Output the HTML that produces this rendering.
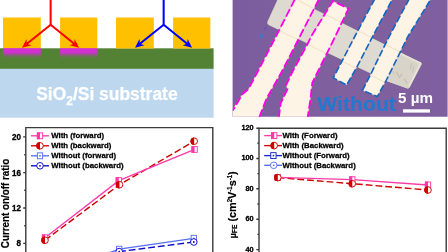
<!DOCTYPE html>
<html>
<head>
<meta charset="utf-8">
<title>Figure</title>
<style>
html,body{margin:0;padding:0;background:#fff;overflow:hidden;}
body{width:448px;height:252px;position:relative;font-family:"Liberation Sans",sans-serif;}
svg{position:absolute;left:0;top:0;display:block;}
text{font-family:"Liberation Sans",sans-serif;font-weight:bold;}
</style>
</head>
<body>
<svg width="448" height="252" viewBox="0 0 448 252">
<defs>
  <linearGradient id="mg" x1="0" y1="0" x2="0" y2="1">
    <stop offset="0" stop-color="#d42fd4"/>
    <stop offset="0.42" stop-color="#cc33cc"/>
    <stop offset="1" stop-color="#548235" stop-opacity="0"/>
  </linearGradient>
  <clipPath id="micro"><rect x="232.6" y="0" width="215" height="116.7"/></clipPath>
  <linearGradient id="pg" x1="0" y1="0" x2="1" y2="0"><stop offset="0" stop-color="#7b5d9f"/><stop offset="0.5" stop-color="#80609d"/><stop offset="1" stop-color="#7f5f9f"/></linearGradient>
  <clipPath id="c1"><rect x="25.8" y="127.6" width="187" height="125"/></clipPath>
  <clipPath id="c2"><rect x="259" y="128.2" width="187.2" height="125"/></clipPath>
  <clipPath id="eclip"><path d="M295 -1L319 -1L308.5 19.6L295.5 45L281.6 72L266.4 98.8L259 118L232 118L232 110.6L242.3 94.3L248.5 89L257.5 72L276.2 36Z"/><path d="M332.8 1L348.5 8.6L335.5 36L317.6 72L312.3 82.7L310.5 98.8L307.6 118L278.8 118L280.7 103.2L287.5 89L286 85.4L292.3 72L307 45L311.4 36Z"/><path d="M374.8 -1L392.5 -1L371 39.6L356.9 67.1L346.6 85L333.3 77.9L341.1 62.9L355 36L368 11.6Z"/><path d="M409.2 -1L431 -1L408.2 36L385.9 81L377.3 96.6L362.5 90.4L372 71.7L378 59.2L389.4 36Z"/></clipPath>
  <filter id="soft2" x="-30%" y="-30%" width="160%" height="160%"><feGaussianBlur stdDeviation="0.7"/></filter>
  <filter id="soft" x="-5%" y="-5%" width="110%" height="110%"><feGaussianBlur stdDeviation="0.45"/></filter>
</defs>

<!-- ================= Panel A : schematic ================= -->
<g id="schematic">
  <rect x="0" y="68.3" width="213.6" height="49.4" fill="#bdd7ee"/>
  <rect x="0" y="48.3" width="213.6" height="20.5" fill="#548235"/>
  <rect x="3" y="17.5" width="37.8" height="31" fill="#ffc000"/>
  <rect x="60.1" y="17.5" width="37.2" height="31" fill="#ffc000"/>
  <rect x="116" y="17.5" width="37.8" height="31" fill="#ffc000"/>
  <rect x="173.1" y="17.5" width="37.2" height="31" fill="#ffc000"/>
  <rect x="3" y="48.2" width="37.8" height="11.2" fill="url(#mg)"/>
  <rect x="60.1" y="48.2" width="37.2" height="11.2" fill="url(#mg)"/>
  <!-- red arrows -->
  <g stroke="#ff0000" stroke-width="2.05" fill="none" stroke-linecap="butt" stroke-linejoin="miter">
    <path d="M50.65 0V24.8"/>
    <path d="M26.9 43.8L50.65 24.8L74.2 43.7"/>
  </g>
  <path d="M22.0 47.7L26.5 39.0L26.9 43.8L31.5 45.2Z" fill="#ff0000"/>
  <path d="M79.1 47.7L69.6 45.2L74.2 43.7L74.6 38.9Z" fill="#ff0000"/>
  <!-- blue arrows -->
  <g stroke="#0000ff" stroke-width="2.05" fill="none" stroke-linecap="butt" stroke-linejoin="miter">
    <path d="M163.65 0V24.8"/>
    <path d="M139.9 43.8L163.65 24.8L187.2 43.7"/>
  </g>
  <path d="M135.0 47.7L139.5 39.0L139.9 43.8L144.5 45.2Z" fill="#0000ff"/>
  <path d="M192.1 47.7L182.6 45.2L187.2 43.7L187.6 38.9Z" fill="#0000ff"/>
  <text x="36.2" y="100.1" font-size="17.45" fill="#ffffff" stroke="#ffffff" stroke-width="0.25">SiO<tspan font-size="12" dy="4.6">2</tspan><tspan dy="-4.6">/Si substrate</tspan></text>
</g>

<!-- ================= Panel B : micrograph ================= -->
<g id="micrograph" clip-path="url(#micro)">
  <rect x="232" y="0" width="216" height="117" fill="url(#pg)"/>
  <g filter="url(#soft)">
  <!-- grey flake -->
  <path d="M277.5 -1L299 -1L315 9L420.8 62.2Q422.3 63 421.6 64.4L409.6 87.6Q408.7 89 407.2 88.4L386 81L268.5 25.3Q266.6 24 267 22Z" fill="#dedad2" stroke="#5b4673" stroke-width="0.7" stroke-opacity="0.55"/>
  <path d="M399 52.5L420.8 62.2Q422.3 63 421.6 64.4L409.6 87.6Q408.7 89 407.2 88.4L385 80.5Z" fill="#d9d4ca"/>
  <path d="M400 53.6L420.4 63.2L409 86.6" fill="none" stroke="#ece8df" stroke-width="1.3" stroke-opacity="0.9"/>
  <g fill="none" stroke="#b39a7c" stroke-opacity="0.4" stroke-linecap="round" filter="url(#soft2)">
    <path d="M411.5 63.5L410.5 69" stroke-width="1.1"/>
    <path d="M414 66L412.6 72.5" stroke-width="0.8"/>
    <path d="M396.5 72L399.5 77.5L402 74" stroke-width="1.1"/>
    <path d="M404.5 79L407 83.5" stroke-width="1.3"/>
    <path d="M391.5 70.5L394 73.5" stroke-width="0.8"/>
  </g>
  <!-- electrodes -->
  <g fill="#fdf4e5" stroke="#c79a9c" stroke-width="0.6" stroke-opacity="0.7">
    <path d="M295 -1L319 -1L308.5 19.6L295.5 45L281.6 72L266.4 98.8L259 118L232 118L232 110.6L242.3 94.3L248.5 89L257.5 72L276.2 36Z"/>
    <path d="M332.8 1L348.5 8.6L335.5 36L317.6 72L312.3 82.7L310.5 98.8L307.6 118L278.8 118L280.7 103.2L287.5 89L286 85.4L292.3 72L307 45L311.4 36Z"/>
    <path d="M374.8 -1L392.5 -1L371 39.6L356.9 67.1L346.6 85L333.3 77.9L341.1 62.9L355 36L368 11.6Z"/>
    <path d="M409.2 -1L431 -1L408.2 36L385.9 81L377.3 96.6L362.5 90.4L372 71.7L378 59.2L389.4 36Z"/>
  </g>
  <!-- flake edges seen through the electrodes -->
  <g clip-path="url(#eclip)" fill="none" stroke="#ecd9b6" stroke-width="0.9" stroke-opacity="0.85">
    <path d="M297.8 0.3L421 62.5"/>
    <path d="M268 25L408 93.6"/>
  </g>
  </g>
  <!-- dashed outlines -->
  <g fill="none" stroke="#ff00e6" stroke-width="1.8" stroke-dasharray="8.5 2.8">
    <path d="M295 -1L276.2 36L257.5 72L248.5 89L242.3 94.3L232.8 110.6"/>
    <path d="M319 -1L308.5 19.6L295.5 45L281.6 72L266.4 98.8L259 118"/>
    <path d="M278.8 118L280.7 103.2L287.5 89L286 85.4L292.3 72L307 45L311.4 36L332.8 1L348.5 8.6L335.5 36L317.6 72L312.3 82.7L310.5 98.8L307.6 118"/>
  </g>
  <g fill="none" stroke="#1565c0" stroke-width="1.6" stroke-dasharray="7 2.6">
    <path d="M374.8 -1L368 11.6L355 36L341.1 62.9L333.3 77.9L346.6 85L356.9 67.1L371 39.6L392.5 -1"/>
    <path d="M409.2 -1L389.4 36L378 59.2L372 71.7L362.5 90.4L377.3 96.6L385.9 81L408.2 36L431 -1"/>
  </g>
  <!-- small residues -->
  <ellipse cx="261.3" cy="36" rx="1.3" ry="2.6" fill="#3f78c8" transform="rotate(12 261.3 36)"/>
  <ellipse cx="265.2" cy="28.3" rx="0.8" ry="1.8" fill="#5a58b0" transform="rotate(35 265.2 28.3)"/>
  <text transform="translate(317.3 111) scale(1.043 1)" font-size="20.3" fill="#2278cf">Without</text>
  <text x="398" y="103.4" font-size="15.2" fill="#ffffff">5 µm</text>
  <rect x="403" y="109.3" width="27" height="3.3" fill="#ffffff"/>
</g>

<!-- ================= Panel C : on/off ratio ================= -->
<g id="chart1">
  <g stroke="#3a3a3a" stroke-width="1.4" fill="none">
    <path d="M25.8 253V127.6H212.8V253"/>
    <path d="M23.2 136.9H25.8M23.2 172.6H25.8M23.2 208H25.8M23.2 243.4H25.8"/>
    <path d="M24.2 154.7H25.8M24.2 190.3H25.8M24.2 225.7H25.8"/>
  </g>
  <g font-size="8.3" fill="#000" text-anchor="end" stroke="#000" stroke-width="0.3">
    <text transform="translate(20.9 139.8) scale(0.97 1)">20</text>
    <text transform="translate(20.9 175.5) scale(0.97 1)">16</text>
    <text transform="translate(20.9 210.9) scale(0.97 1)">12</text>
    <text transform="translate(20.9 246.3) scale(0.97 1)">8</text>
  </g>
  <text transform="translate(8.6 203.5) rotate(-90) scale(0.925 1)" text-anchor="middle" font-size="10.6" fill="#000" stroke="#000" stroke-width="0.2">Current on/off ratio</text>
  <g font-size="7.45" fill="#000" stroke="#000" stroke-width="0.25">
    <text transform="translate(51.2 138.0) scale(1.05 1)">With (forward)</text>
    <text transform="translate(51.2 148.0) scale(1.05 1)">With (backward)</text>
    <text transform="translate(51.2 158.0) scale(1.05 1)">Without (forward)</text>
    <text transform="translate(51.2 168.0) scale(1.05 1)">Without (backward)</text>
  </g>
  <g>
    <path d="M31 135.8L49 135.8" stroke="#ff3aa8" stroke-width="1.35" fill="none"/><rect x="37.35" y="132.85" width="5.3" height="5.9" fill="#fff" stroke="#ff3aa8" stroke-width="0.95"/><rect x="36.88" y="132.38" width="3.12" height="6.85" fill="#ff3aa8"/>
    <path d="M31 145.8L49 145.8" stroke="#cf0000" stroke-width="1.35" fill="none"/><circle cx="40" cy="145.8" r="3.3" fill="#fff" stroke="#cf0000" stroke-width="0.95"/><path d="M40 142.03A3.77 3.77 0 0 0 40 149.57Z" fill="#cf0000"/>
    <path d="M31 155.8L49 155.8" stroke="#5570f0" stroke-width="1.35" fill="none"/><rect x="37.35" y="152.85" width="5.3" height="5.9" fill="#fff" stroke="#5570f0" stroke-width="0.95"/><circle cx="40" cy="155.8" r="0.9" fill="#5570f0"/>
    <path d="M31 165.8L49 165.8" stroke="#0a0ac8" stroke-width="1.35" fill="none"/><circle cx="40" cy="165.8" r="3.3" fill="#fff" stroke="#0a0ac8" stroke-width="0.95"/><circle cx="40" cy="165.8" r="0.9" fill="#0a0ac8"/>
  </g>
  <g clip-path="url(#c1)">
    <path d="M45 240.2L119.5 184.7L194.2 141.2" stroke="#cf0000" stroke-width="1.4" fill="none" stroke-dasharray="6.8 3"/>
    <path d="M45 237.8L118.8 180.6L194.6 149.4" stroke="#ff3aa8" stroke-width="1.35" fill="none"/>
    <path d="M193.8 242L119.2 251.6L45 279" stroke="#0a0ac8" stroke-width="1.4" fill="none" stroke-dasharray="6.8 3"/>
    <path d="M45 276L119.2 249.2L193.8 238.3" stroke="#5570f0" stroke-width="1.35" fill="none"/>
    <rect x="42.35" y="234.85" width="5.3" height="5.9" fill="#fff" stroke="#ff3aa8" stroke-width="0.95"/><rect x="41.88" y="234.38" width="3.12" height="6.85" fill="#ff3aa8"/>
    <rect x="116.15" y="177.65" width="5.3" height="5.9" fill="#fff" stroke="#ff3aa8" stroke-width="0.95"/><rect x="115.68" y="177.18" width="3.12" height="6.85" fill="#ff3aa8"/>
    <rect x="191.95" y="146.45" width="5.3" height="5.9" fill="#fff" stroke="#ff3aa8" stroke-width="0.95"/><rect x="191.48" y="145.98" width="3.12" height="6.85" fill="#ff3aa8"/>
    <circle cx="45" cy="240.2" r="3.3" fill="#fff" stroke="#cf0000" stroke-width="0.95"/><path d="M45 236.43A3.77 3.77 0 0 0 45 243.97Z" fill="#cf0000"/>
    <circle cx="119.5" cy="184.7" r="3.3" fill="#fff" stroke="#cf0000" stroke-width="0.95"/><path d="M119.5 180.93A3.77 3.77 0 0 0 119.5 188.47Z" fill="#cf0000"/>
    <circle cx="194.2" cy="141.2" r="3.3" fill="#fff" stroke="#cf0000" stroke-width="0.95"/><path d="M194.2 137.43A3.77 3.77 0 0 0 194.2 144.97Z" fill="#cf0000"/>
    <rect x="116.55" y="246.25" width="5.3" height="5.9" fill="#fff" stroke="#5570f0" stroke-width="0.95"/><circle cx="119.2" cy="249.2" r="0.9" fill="#5570f0"/>
    <rect x="191.15" y="235.35" width="5.3" height="5.9" fill="#fff" stroke="#5570f0" stroke-width="0.95"/><circle cx="193.8" cy="238.3" r="0.9" fill="#5570f0"/>
    <circle cx="119.2" cy="251.6" r="3.3" fill="#fff" stroke="#0a0ac8" stroke-width="0.95"/><circle cx="119.2" cy="251.6" r="0.9" fill="#0a0ac8"/>
    <circle cx="193.8" cy="242" r="3.3" fill="#fff" stroke="#0a0ac8" stroke-width="0.95"/><circle cx="193.8" cy="242" r="0.9" fill="#0a0ac8"/>
  </g>
</g>

<!-- ================= Panel D : mobility ================= -->
<g id="chart2">
  <g stroke="#3a3a3a" stroke-width="1.4" fill="none">
    <path d="M259 253V128.2H446.2V253"/>
    <path d="M256.3 128.2H259M256.3 158.5H259M256.3 188.8H259M256.3 219.2H259M256.3 249.6H259"/>
    <path d="M257.4 143.3H259M257.4 173.6H259M257.4 204H259M257.4 234.4H259"/>
  </g>
  <g font-size="7.6" fill="#000" text-anchor="end" stroke="#000" stroke-width="0.3">
    <text transform="translate(253.7 130.2) scale(0.97 1)">120</text>
    <text transform="translate(253.7 160.4) scale(0.97 1)">100</text>
    <text transform="translate(253.7 190.7) scale(0.97 1)">80</text>
    <text transform="translate(253.7 221.1) scale(0.97 1)">60</text>
    <text transform="translate(253.7 251.5) scale(0.97 1)">40</text>
  </g>
  <text transform="translate(235.6 204.8) rotate(-90) scale(0.95 1)" text-anchor="middle" font-size="11.4" fill="#000" stroke="#000" stroke-width="0.2"><tspan font-size="9.4">µ</tspan><tspan font-size="7.1" dy="1.5">FE</tspan><tspan dy="-1.5"> (cm</tspan><tspan font-size="6.4" dy="-3.8">2</tspan><tspan dy="3.8">V</tspan><tspan font-size="6.4" dy="-3.8">-1</tspan><tspan dy="3.8">s</tspan><tspan font-size="6.4" dy="-3.8">-1</tspan><tspan dy="3.8">)</tspan></text>
  <g font-size="7.45" fill="#000" stroke="#000" stroke-width="0.25">
    <text transform="translate(282.5 137.8) scale(1.05 1)">With (Forward)</text>
    <text transform="translate(282.5 147.8) scale(1.05 1)">With (Backward)</text>
    <text transform="translate(282.5 157.8) scale(1.05 1)">Without (Forward)</text>
    <text transform="translate(282.5 167.7) scale(1.05 1)">Without (Backward)</text>
  </g>
  <g>
    <path d="M264.2 135.6L282 135.6" stroke="#ff3aa8" stroke-width="1.35" fill="none"/><rect x="271.55" y="132.65" width="5.3" height="5.9" fill="#fff" stroke="#ff3aa8" stroke-width="0.95"/><rect x="271.08" y="132.18" width="3.12" height="6.85" fill="#ff3aa8"/>
    <path d="M264.2 145.6L282 145.6" stroke="#cf0000" stroke-width="1.35" fill="none"/><circle cx="274.2" cy="145.6" r="3.3" fill="#fff" stroke="#cf0000" stroke-width="0.95"/><path d="M274.2 141.83A3.77 3.77 0 0 0 274.2 149.37Z" fill="#cf0000"/>
    <path d="M264.2 155.6L282 155.6" stroke="#1428c8" stroke-width="1.35" fill="none"/><rect x="270.75" y="152.65" width="5.3" height="5.9" fill="#fff" stroke="#1428c8" stroke-width="0.95"/><circle cx="273.4" cy="155.6" r="0.9" fill="#1428c8"/>
    <path d="M264.2 165.3L282 165.3" stroke="#5570f0" stroke-width="1.35" fill="none"/><circle cx="273.7" cy="165.3" r="3.3" fill="#fff" stroke="#5570f0" stroke-width="0.95"/><circle cx="273.7" cy="165.3" r="0.9" fill="#5570f0"/>
  </g>
  <g clip-path="url(#c2)">
    <path d="M277.8 177.6L352.3 183.7L428 190" stroke="#cf0000" stroke-width="1.4" fill="none" stroke-dasharray="6.8 3"/>
    <path d="M277.8 177.4L352.3 179.7L428 185" stroke="#ff3aa8" stroke-width="1.35" fill="none"/>
    <rect x="275.15" y="174.55" width="5.3" height="5.9" fill="#fff" stroke="#ff3aa8" stroke-width="0.95"/><rect x="274.68" y="174.08" width="3.12" height="6.85" fill="#ff3aa8"/>
    <rect x="349.65" y="176.75" width="5.3" height="5.9" fill="#fff" stroke="#ff3aa8" stroke-width="0.95"/><rect x="349.18" y="176.28" width="3.12" height="6.85" fill="#ff3aa8"/>
    <rect x="425.35" y="182.05" width="5.3" height="5.9" fill="#fff" stroke="#ff3aa8" stroke-width="0.95"/><rect x="424.88" y="181.58" width="3.12" height="6.85" fill="#ff3aa8"/>
    <circle cx="277.8" cy="177.6" r="3.3" fill="#fff" stroke="#cf0000" stroke-width="0.95"/><path d="M277.8 173.83A3.77 3.77 0 0 0 277.8 181.37Z" fill="#cf0000"/>
    <circle cx="352.3" cy="183.7" r="3.3" fill="#fff" stroke="#cf0000" stroke-width="0.95"/><path d="M352.3 179.93A3.77 3.77 0 0 0 352.3 187.47Z" fill="#cf0000"/>
    <circle cx="428" cy="190" r="3.3" fill="#fff" stroke="#cf0000" stroke-width="0.95"/><path d="M428 186.23A3.77 3.77 0 0 0 428 193.77Z" fill="#cf0000"/>
  </g>
</g>
</svg>
</body>
</html>
